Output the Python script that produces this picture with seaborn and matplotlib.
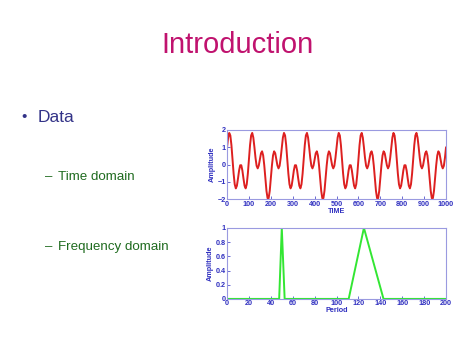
import seaborn as sns
import pandas as pd
import matplotlib.pyplot as plt

# time-domain samples, every 5 time units
time = list(range(0, 1001, 5))
amplitude = [
    1.000, 1.557, 1.827, 1.680, 1.124, 0.309, -0.525, -1.138, -1.377, -1.225,
    -0.809, -0.342, -0.041, -0.041, -0.342, -0.809, -1.225, -1.377, -1.138, -0.525,
    0.309, 1.124, 1.680, 1.827, 1.557, 1.000, 0.381, -0.075, -0.222, -0.052,
    0.309, 0.651, 0.764, 0.525, -0.049, -0.809, -1.518, -1.943, -1.943, -1.518,
    -0.809, -0.049, 0.525, 0.764, 0.651, 0.309, -0.052, -0.222, -0.075, 0.381,
    1.000, 1.557, 1.827, 1.680, 1.124, 0.309, -0.525, -1.138, -1.377, -1.225,
    -0.809, -0.342, -0.041, -0.041, -0.342, -0.809, -1.225, -1.377, -1.138, -0.525,
    0.309, 1.124, 1.680, 1.827, 1.557, 1.000, 0.381, -0.075, -0.222, -0.052,
    0.309, 0.651, 0.764, 0.525, -0.049, -0.809, -1.518, -1.943, -1.943, -1.518,
    -0.809, -0.049, 0.525, 0.764, 0.651, 0.309, -0.052, -0.222, -0.075, 0.381,
    1.000, 1.557, 1.827, 1.680, 1.124, 0.309, -0.525, -1.138, -1.377, -1.225,
    -0.809, -0.342, -0.041, -0.041, -0.342, -0.809, -1.225, -1.377, -1.138, -0.525,
    0.309, 1.124, 1.680, 1.827, 1.557, 1.000, 0.381, -0.075, -0.222, -0.052,
    0.309, 0.651, 0.764, 0.525, -0.049, -0.809, -1.518, -1.943, -1.943, -1.518,
    -0.809, -0.049, 0.525, 0.764, 0.651, 0.309, -0.052, -0.222, -0.075, 0.381,
    1.000, 1.557, 1.827, 1.680, 1.124, 0.309, -0.525, -1.138, -1.377, -1.225,
    -0.809, -0.342, -0.041, -0.041, -0.342, -0.809, -1.225, -1.377, -1.138, -0.525,
    0.309, 1.124, 1.680, 1.827, 1.557, 1.000, 0.381, -0.075, -0.222, -0.052,
    0.309, 0.651, 0.764, 0.525, -0.049, -0.809, -1.518, -1.943, -1.943, -1.518,
    -0.809, -0.049, 0.525, 0.764, 0.651, 0.309, -0.052, -0.222, -0.075, 0.381,
    1.000,
]

# spectrum vs period
period = [0, 47.6, 50.0, 52.6, 111.1, 125.0, 142.9, 200]
spectrum = [0, 0, 1, 0, 0, 1, 0, 0]

time_ticks = [0, 100, 200, 300, 400, 500, 600, 700, 800, 900, 1000]
amp_ticks = [-2, -1, 0, 1, 2]
period_ticks = [0, 20, 40, 60, 80, 100, 120, 140, 160, 180, 200]
spec_ticks = [0, 0.2, 0.4, 0.6, 0.8, 1]

sns.set_theme(style="white")
plt.rcParams['font.family'] = ['Liberation Sans', 'DejaVu Sans']

df_t = pd.DataFrame({'TIME': time, 'Amplitude': amplitude})
df_f = pd.DataFrame({'Period': period, 'Amplitude': spectrum})

fig = plt.figure(figsize=(4.74, 3.55), dpi=100)
fig.patch.set_facecolor('white')

fig.text(0.5, 0.872, 'Introduction', ha='center', va='center',
         fontsize=21, color='#c0126e')
fig.text(0.045, 0.67, '\u2022', ha='left', va='center', fontsize=11, color='#333388')
fig.text(0.08, 0.67, 'Data', ha='left', va='center', fontsize=12.5, color='#333388')
fig.text(0.095, 0.50, '\u2013', ha='left', va='center', fontsize=9.5, color='#1f6b1f')
fig.text(0.122, 0.50, 'Time domain', ha='left', va='center',
         fontsize=9.6, color='#1f6b1f')
fig.text(0.095, 0.303, '\u2013', ha='left', va='center', fontsize=9.5, color='#1f6b1f')
fig.text(0.122, 0.303, 'Frequency domain', ha='left', va='center',
         fontsize=9.6, color='#1f6b1f')

axis_col = '#9a9ae0'
text_col = '#3030c0'

ax1 = fig.add_axes([0.479, 0.439, 0.462, 0.195])
sns.lineplot(data=df_t, x='TIME', y='Amplitude', ax=ax1, color='#dd2020', linewidth=1.4)
ax1.set_xlim(0, 1000)
ax1.set_ylim(-2, 2)
ax1.set_xticks(time_ticks)
ax1.set_yticks(amp_ticks)

ax2 = fig.add_axes([0.479, 0.158, 0.462, 0.2])
sns.lineplot(data=df_f, x='Period', y='Amplitude', ax=ax2, color='#33e633', linewidth=1.4)
ax2.set_xlim(0, 200)
ax2.set_ylim(0, 1)
ax2.set_xticks(period_ticks)
ax2.set_yticks(spec_ticks)
ax2.set_yticklabels(['0', '0.2', '0.4', '0.6', '0.8', '1'])

for ax in (ax1, ax2):
    for s in ax.spines.values():
        s.set_color(axis_col)
        s.set_linewidth(0.8)
    ax.tick_params(axis='both', labelsize=5.2, colors=text_col, length=2,
                   width=0.5, pad=1, direction='in', bottom=True, left=True)
    ax.xaxis.label.set_color(text_col)
    ax.yaxis.label.set_color(text_col)
    ax.xaxis.label.set_size(5.2)
    ax.yaxis.label.set_size(5.2)
    ax.xaxis.label.set_weight('bold')
    ax.yaxis.label.set_weight('bold')
    ax.xaxis.labelpad = 0
    ax.yaxis.labelpad = 1
    for lab in ax.get_xticklabels() + ax.get_yticklabels():
        lab.set_fontweight('bold')

fig.savefig('out.png', dpi=100, facecolor='white')
